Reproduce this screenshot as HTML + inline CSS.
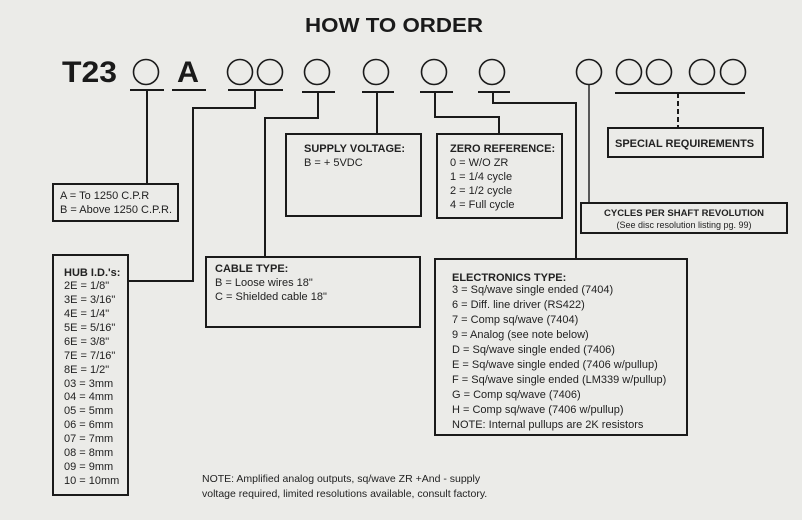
<!DOCTYPE html>
<html><head><meta charset="utf-8"><style>
html,body{margin:0;padding:0;background:#ebebe8;}
svg{display:block;font-family:"Liberation Sans",Arial,sans-serif;}
</style></head><body>
<svg width="802" height="520" viewBox="0 0 802 520" xmlns="http://www.w3.org/2000/svg">
<rect width="802" height="520" fill="#ebebe8"/>
<text x="305" y="32" font-size="20" font-weight="bold" fill="#1a1a1a" textLength="178" lengthAdjust="spacingAndGlyphs">HOW TO ORDER</text>
<text x="62" y="82" font-size="30" font-weight="bold" fill="#1a1a1a" textLength="55" lengthAdjust="spacingAndGlyphs">T23</text>
<text x="177" y="82" font-size="30" font-weight="bold" fill="#1a1a1a" textLength="22" lengthAdjust="spacingAndGlyphs">A</text>
<g fill="none" stroke="#1a1a1a" stroke-width="1.6">
<circle cx="146" cy="72" r="12.5"/>
<circle cx="240" cy="72" r="12.5"/><circle cx="270" cy="72" r="12.5"/>
<circle cx="317" cy="72" r="12.5"/>
<circle cx="376" cy="72" r="12.5"/>
<circle cx="434" cy="72" r="12.5"/>
<circle cx="492" cy="72" r="12.5"/>
<circle cx="589" cy="72" r="12.5"/>
<circle cx="629" cy="72" r="12.5"/><circle cx="659" cy="72" r="12.5"/>
<circle cx="702" cy="72" r="12.5"/><circle cx="733" cy="72" r="12.5"/>
</g>
<g stroke="#1a1a1a" stroke-width="2" fill="none">
<line x1="130" y1="90" x2="164" y2="90"/>
<line x1="172" y1="90" x2="206" y2="90"/>
<line x1="228" y1="90" x2="283" y2="90"/>
<line x1="302" y1="92" x2="335" y2="92"/>
<line x1="362" y1="92" x2="394" y2="92"/>
<line x1="420" y1="92" x2="453" y2="92"/>
<line x1="478" y1="92" x2="510" y2="92"/>
<line x1="615" y1="93" x2="745" y2="93"/>
<polyline points="147,90 147,184"/>
<polyline points="255,90 255,108 193,108 193,281 128,281"/>
<polyline points="318,92 318,118 265,118 265,258"/>
<polyline points="377,92 377,134"/>
<polyline points="435,92 435,117 499,117 499,134"/>
<polyline points="493,92 493,103 576,103 576,259"/>
<polyline points="589,85 589,203" stroke-width="1.4"/>
<line x1="678" y1="93" x2="678" y2="128" stroke-dasharray="5,3"/>
<rect x="53" y="184" width="125" height="37"/>
<rect x="286" y="134" width="135" height="82"/>
<rect x="437" y="134" width="125" height="84"/>
<rect x="608" y="128" width="155" height="29"/>
<rect x="581" y="203" width="206" height="30"/>
<rect x="53" y="255" width="75" height="240"/>
<rect x="206" y="257" width="214" height="70"/>
<rect x="435" y="259" width="252" height="176"/>
</g>
<g font-size="11" fill="#222">
<text x="60" y="199">A = To 1250 C.P.R</text>
<text x="60" y="213">B = Above 1250 C.P.R.</text>
<text x="304" y="152" font-weight="bold">SUPPLY VOLTAGE:</text>
<text x="304" y="166">B = + 5VDC</text>
<text x="450" y="152" font-weight="bold">ZERO REFERENCE:</text>
<text x="450" y="166">0 = W/O ZR</text>
<text x="450" y="180">1 = 1/4 cycle</text>
<text x="450" y="194">2 = 1/2 cycle</text>
<text x="450" y="208">4 = Full cycle</text>
<text x="615" y="147" font-weight="bold">SPECIAL REQUIREMENTS</text>
<text x="684" y="216" font-size="9.5" font-weight="bold" text-anchor="middle">CYCLES PER SHAFT REVOLUTION</text>
<text x="684" y="228" font-size="9" text-anchor="middle">(See disc resolution listing pg. 99)</text>
<text x="64" y="276" font-weight="bold">HUB I.D.'s:</text>
<text x="64" y="289">2E = 1/8"</text>
<text x="64" y="303">3E = 3/16"</text>
<text x="64" y="317">4E = 1/4"</text>
<text x="64" y="331">5E = 5/16"</text>
<text x="64" y="345">6E = 3/8"</text>
<text x="64" y="359">7E = 7/16"</text>
<text x="64" y="373">8E = 1/2"</text>
<text x="64" y="387">03 = 3mm</text>
<text x="64" y="400">04 = 4mm</text>
<text x="64" y="414">05 = 5mm</text>
<text x="64" y="428">06 = 6mm</text>
<text x="64" y="442">07 = 7mm</text>
<text x="64" y="456">08 = 8mm</text>
<text x="64" y="470">09 = 9mm</text>
<text x="64" y="484">10 = 10mm</text>
<text x="215" y="272" font-weight="bold">CABLE TYPE:</text>
<text x="215" y="286">B = Loose wires 18"</text>
<text x="215" y="300">C = Shielded cable 18"</text>
<text x="452" y="281" font-weight="bold">ELECTRONICS TYPE:</text>
<text x="452" y="293">3 = Sq/wave single ended (7404)</text>
<text x="452" y="308">6 = Diff. line driver (RS422)</text>
<text x="452" y="323">7 = Comp sq/wave (7404)</text>
<text x="452" y="338">9 = Analog (see note below)</text>
<text x="452" y="353">D = Sq/wave single ended (7406)</text>
<text x="452" y="368">E = Sq/wave single ended (7406 w/pullup)</text>
<text x="452" y="383">F = Sq/wave single ended (LM339 w/pullup)</text>
<text x="452" y="398">G = Comp sq/wave (7406)</text>
<text x="452" y="413">H = Comp sq/wave (7406 w/pullup)</text>
<text x="452" y="428">NOTE: Internal pullups are 2K resistors</text>
<text x="202" y="482" font-size="10.5">NOTE: Amplified analog outputs, sq/wave ZR +And - supply</text>
<text x="202" y="497" font-size="10.5">voltage required, limited resolutions available, consult factory.</text>
</g>
</svg>
</body></html>
